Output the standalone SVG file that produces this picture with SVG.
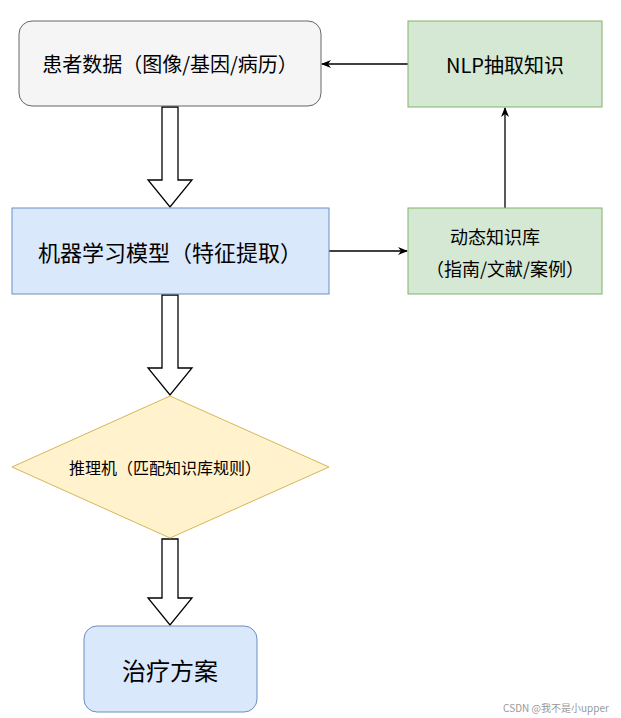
<svg xmlns="http://www.w3.org/2000/svg" width="621" height="718" viewBox="0 0 621 718">
<style>
text{font-family:"Noto Sans CJK SC","Noto Sans",sans-serif;text-anchor:middle;dominant-baseline:central;fill:#000}
.blk{fill:#fff;stroke:#000;stroke-width:1.3}
.ln{stroke:#000;stroke-width:1.3;fill:none}
</style>
<defs><marker id="ah" markerWidth="10" markerHeight="10" refX="9" refY="5" orient="auto" markerUnits="userSpaceOnUse"><path d="M0,1 L10,5 L0,9 L3,5 Z" fill="#000"/></marker></defs>
<rect width="621" height="718" fill="#fff"/>
<g id="connectors">
<path class="blk" d="M162,107 H178 V180 H192 L170,207 L148,180 H162 Z"/>
<path class="blk" d="M162,295 H178 V368 H192 L170,395 L148,368 H162 Z"/>
<path class="blk" d="M162,539 H178 V598 H192 L170,625 L148,598 H162 Z"/>
<line class="ln" x1="408" y1="64" x2="322" y2="64" marker-end="url(#ah)"/>
<line class="ln" x1="505" y1="208" x2="505" y2="108" marker-end="url(#ah)"/>
<line class="ln" x1="329" y1="251" x2="407" y2="251" marker-end="url(#ah)"/>
</g>
<g id="patient"><rect x="19" y="21" width="302" height="85" rx="13" fill="#f5f5f5" stroke="#666"/><text x="170" y="63" font-size="20">患者数据（图像/基因/病历）</text></g>
<g id="nlp"><rect x="408" y="21" width="194" height="86" fill="#d5e8d4" stroke="#82b366"/><text x="505" y="64" font-size="20">NLP抽取知识</text></g>
<g id="ml"><rect x="12" y="208" width="317" height="86" fill="#dae8fc" stroke="#6c8ebf"/><text x="170" y="251" font-size="22">机器学习模型（特征提取）</text></g>
<g id="kb"><rect x="408" y="208" width="194" height="86" fill="#d5e8d4" stroke="#82b366"/><text x="495" y="236" font-size="18">动态知识库</text><text x="505" y="268" font-size="18">（指南/文献/案例）</text></g>
<g id="engine"><path d="M170,396 L329,467 L170,538 L12,467 Z" fill="#fff2cc" stroke="#d6b656"/><text x="165" y="467" font-size="16">推理机（匹配知识库规则）</text></g>
<g id="plan"><rect x="84" y="626" width="173" height="86" rx="13" fill="#dae8fc" stroke="#6c8ebf"/><text x="170" y="669" font-size="24">治疗方案</text></g>
<text x="556" y="707" font-size="10" style="fill:#999">CSDN @我不是小upper</text>
</svg>
